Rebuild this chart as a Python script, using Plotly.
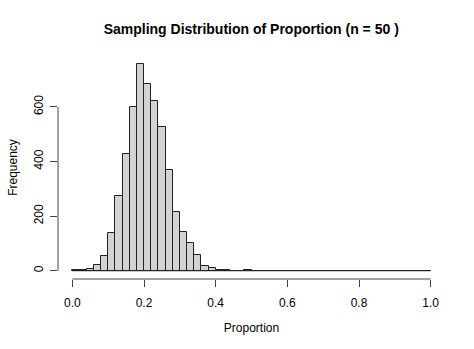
import plotly.graph_objects as go

bin_width = 0.02
bin_starts = [round(i * bin_width, 2) for i in range(50)]
counts = [1, 2, 5, 21, 54, 137, 273, 426, 600, 756, 682, 623, 526, 370, 216, 143, 101, 57, 16, 10,
          2, 1, 0, 0, 1] + [0] * 25
x_ticks = [0.0, 0.2, 0.4, 0.6, 0.8, 1.0]
x_tick_labels = ["0.0", "0.2", "0.4", "0.6", "0.8", "1.0"]
y_ticks = [0, 200, 400, 600]
y_tick_labels = ["0", "200", "400", "600"]
title = "Sampling Distribution of Proportion (n = 50 )"

centers = [s + bin_width / 2 for s in bin_starts]

fig = go.Figure()
# zero-height bins drawn as baseline line
fig.add_trace(go.Scatter(x=[bin_starts[0], bin_starts[-1] + bin_width], y=[0, 0], mode="lines",
                         line=dict(color="#222222", width=1), hoverinfo="skip", showlegend=False))
fig.add_trace(go.Bar(x=centers, y=counts, width=[bin_width] * len(counts),
                     marker=dict(color="#D3D3D3", line=dict(color="#222222", width=1)),
                     showlegend=False))

ymax = max(counts)
font = "Liberation Sans, Arial, Helvetica, sans-serif"
fig.update_layout(
    width=474, height=349,
    margin=dict(l=56, r=29, t=56, b=70),
    paper_bgcolor="white", plot_bgcolor="white",
    bargap=0,
    font=dict(family=font, color="black", size=12),
    title=dict(text="<b>" + title + "</b>", x=0.53, xanchor="center", y=0.917, yanchor="middle",
               font=dict(size=14, family=font, color="black")),
    xaxis=dict(range=[-0.04, 1.04], showgrid=False, zeroline=False, showline=False,
               tickvals=x_ticks, ticktext=x_tick_labels, ticks="outside", ticklen=7,
               tickcolor="#444444", tickwidth=1, ticklabelstandoff=6,
               title=dict(text="Proportion", standoff=14, font=dict(size=12))),
    yaxis=dict(range=[-0.04 * ymax, 1.04 * ymax], showgrid=False, zeroline=False, showline=False,
               tickvals=y_ticks, ticktext=y_tick_labels, ticks="outside", ticklen=7,
               tickcolor="#444444", tickwidth=1, tickangle=-90, ticklabelstandoff=2,
               title=dict(text="Frequency", standoff=12, font=dict(size=12))),
    shapes=[
        dict(type="line", xref="x", yref="paper", x0=x_ticks[0], x1=x_ticks[-1], y0=0, y1=0,
             line=dict(color="#444444", width=1)),
        dict(type="line", xref="paper", yref="y", x0=0, x1=0, y0=y_ticks[0], y1=y_ticks[-1],
             line=dict(color="#444444", width=1)),
    ],
)

fig.write_html("out.html")
